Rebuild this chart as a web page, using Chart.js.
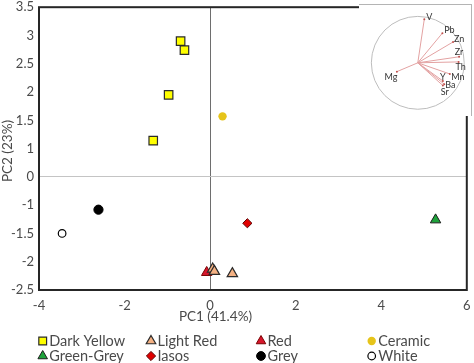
<!DOCTYPE html>
<html>
<head>
<meta charset="utf-8">
<script src="https://cdn.jsdelivr.net/npm/chart.js@4.4.1/dist/chart.umd.min.js"></script>
<style>
  html, body { margin: 0; padding: 0; background: #fff; }
  #wrap { position: relative; width: 474px; height: 363px; }
  #inset { position: absolute; left: 359px; top: 4px; width: 112px; height: 111px;
           background: #fff; border-top: 1px solid #b4b4b4; border-right: 1px solid #b4b4b4; }
</style>
</head>
<body>
<div id="wrap">
  <canvas id="main" width="474" height="363"></canvas>
  <div id="inset"><canvas id="loadings" width="112" height="111"></canvas></div>
</div>
<script>
// --- Datos ---
const groupNames = ['Dark Yellow', 'Light Red', 'Red', 'Ceramic', 'Green-Grey', 'Iasos', 'Grey', 'White'];

const darkYellowX = [-0.69, -0.60, -0.97, -1.33];
const darkYellowY = [2.90, 2.74, 1.95, 1.14];
const lightRedX = [0.06, 0.10, 0.52];
const lightRedY = [-2.13, -2.17, -2.21];
const redX = [-0.08];
const redY = [-2.19];
const ceramicX = [0.29];
const ceramicY = [1.57];
const greenGreyX = [5.27];
const greenGreyY = [-1.26];
const iasosX = [0.87];
const iasosY = [-1.32];
const greyX = [-2.61];
const greyY = [-1.08];
const whiteX = [-3.46];
const whiteY = [-1.50];

// etiquetas del eje Y tal como aparecen (espaciado igual entre ellas)
const yTickValues = [-2.5, -2, -1.5, -1, 0, 1, 1.5, 2, 2.5, 3, 3.5];
const xTickMin = -4, xTickMax = 6, xTickStep = 2;

// cargas del círculo de correlaciones (inserto)
const loadingNames = ['V', 'Pb', 'Zn', 'Zr', 'Th', 'Mn', 'Y', 'Ba', 'Sr', 'Mg'];
const loadingX = [0.14, 0.53, 0.76, 0.89, 0.88, 0.69, 0.54, 0.57, 0.54, -0.45];
const loadingY = [0.94, 0.64, 0.45, 0.13, 0.02, -0.24, -0.39, -0.46, -0.49, -0.19];

// --- Estilos ---
const FONT = 'Lato, "Open Sans", sans-serif';
const TEXT = '#4a4a4a';
const groupStyles = [
  { style: 'rect',     radius: 6,   fill: '#ffff00', line: '#2b2b2b', width: 1.2, legendRadius: 5.5 },
  { style: 'triangle', radius: 6,   fill: '#f4b183', line: '#2b2b2b', width: 1.2, legendRadius: 5.5 },
  { style: 'triangle', radius: 6,   fill: '#d7162c', line: '#7a0000', width: 1,   legendRadius: 5.5 },
  { style: 'circle',   radius: 4.2, fill: '#e6c41a', line: '#e6c41a', width: 0,   legendRadius: 4.2 },
  { style: 'triangle', radius: 6,   fill: '#1ea33b', line: '#1d1d1d', width: 1,   legendRadius: 5.5 },
  { style: 'rectRot',  radius: 4.6, fill: '#e00000', line: '#5a0000', width: 1,   legendRadius: 4.6 },
  { style: 'circle',   radius: 4.6, fill: '#000000', line: '#000000', width: 1,   legendRadius: 4.4 },
  { style: 'circle',   radius: 3.8, fill: '#ffffff', line: '#000000', width: 1.2, legendRadius: 3.8 }
];
const labelOffsets = {
  V: [5, -2], Pb: [7, -3], Zn: [6, -3], Zr: [0, -5], Th: [2, 5],
  Mn: [8, 3], Y: [0, -4], Ba: [6, 1], Sr: [2, 7], Mg: [-6, 5]
};

function pairs(xs, ys) { return xs.map((x, i) => ({ x: x, y: ys[i] })); }
const seriesData = [
  pairs(darkYellowX, darkYellowY), pairs(lightRedX, lightRedY), pairs(redX, redY),
  pairs(ceramicX, ceramicY), pairs(greenGreyX, greenGreyY), pairs(iasosX, iasosY),
  pairs(greyX, greyY), pairs(whiteX, whiteY)
];

// --- Escala Y con etiquetas equiespaciadas (como en la figura original) ---
class StepScale extends Chart.LinearScale {
  buildTicks() {
    return yTickValues.map(v => ({ value: v }));
  }
  getPixelForValue(value) {
    const t = yTickValues;
    let i = 0;
    while (i < t.length - 2 && value > t[i + 1]) i++;
    const f = (i + (value - t[i]) / (t[i + 1] - t[i])) / (t.length - 1);
    return this.getPixelForDecimal(f);
  }
  getValueForPixel(pixel) {
    const t = yTickValues;
    const pos = this.getDecimalForPixel(pixel) * (t.length - 1);
    const i = Math.max(0, Math.min(t.length - 2, Math.floor(pos)));
    return t[i] + (pos - i) * (t[i + 1] - t[i]);
  }
}
StepScale.id = 'step';
StepScale.defaults = Chart.LinearScale.defaults;
Chart.register(StepScale);

// --- Marco, títulos de ejes y leyenda ---
const legendCols = [42.7, 151, 261, 371.7];
const legendRows = [341, 356];

const framePlugin = {
  id: 'frame',
  beforeDatasetsDraw(chart) {
    const { ctx, chartArea: a } = chart;
    ctx.save();
    ctx.strokeStyle = '#262626';
    ctx.lineWidth = 2;
    ctx.strokeRect(a.left, a.top, a.right - a.left, a.bottom - a.top);
    ctx.restore();
  },
  afterDraw(chart) {
    const ctx = chart.ctx;
    ctx.save();
    ctx.fillStyle = TEXT;
    ctx.font = '13.5px ' + FONT;
    ctx.textAlign = 'center';
    ctx.textBaseline = 'middle';
    ctx.fillText('PC1 (41.4%)', 215.5, 317);
    ctx.save();
    ctx.translate(8, 151);
    ctx.rotate(-Math.PI / 2);
    ctx.fillText('PC2 (23%)', 0, 0);
    ctx.restore();

    // leyenda en rejilla de 4 columnas
    ctx.font = '14.5px ' + FONT;
    ctx.textAlign = 'left';
    chart.data.datasets.forEach((ds, i) => {
      const s = groupStyles[i];
      const x = legendCols[i % 4];
      const y = legendRows[Math.floor(i / 4)];
      ctx.fillStyle = s.fill;
      ctx.strokeStyle = s.line;
      ctx.lineWidth = s.width;
      Chart.helpers.drawPoint(ctx, { pointStyle: s.style, rotation: 0, radius: s.legendRadius, borderWidth: s.width }, x, y);
      ctx.fillStyle = TEXT;
      ctx.fillText(ds.label, x + 6.5, y);
    });
    ctx.restore();
  }
};

new Chart(document.getElementById('main'), {
  type: 'scatter',
  data: {
    datasets: groupNames.map((name, i) => ({
      label: name,
      data: seriesData[i],
      pointStyle: groupStyles[i].style,
      pointRadius: groupStyles[i].radius,
      pointHoverRadius: groupStyles[i].radius,
      backgroundColor: groupStyles[i].fill,
      borderColor: groupStyles[i].line,
      borderWidth: groupStyles[i].width
    }))
  },
  options: {
    responsive: false,
    animation: false,
    layout: { padding: { top: 5, right: 3.5, bottom: 0, left: 0 } },
    plugins: { legend: { display: false }, tooltip: { enabled: false } },
    scales: {
      x: {
        type: 'linear',
        min: xTickMin, max: xTickMax,
        ticks: { stepSize: xTickStep, padding: 8, color: TEXT, font: { family: FONT, size: 13 } },
        grid: { drawTicks: false, lineWidth: 1, color: c => (c.tick && c.tick.value === 0 ? '#6e6e6e' : 'rgba(0,0,0,0)') },
        border: { display: false },
        afterFit: s => { s.height = 73; s.paddingLeft = 0; s.paddingRight = 0; }
      },
      y: {
        type: 'step',
        min: yTickValues[0], max: yTickValues[yTickValues.length - 1],
        ticks: { padding: 5, color: TEXT, font: { family: FONT, size: 13 }, callback: v => String(v) },
        grid: { drawTicks: false, lineWidth: 1, color: c => (c.tick && c.tick.value === 0 ? '#c4c4c4' : 'rgba(0,0,0,0)') },
        border: { display: false },
        afterFit: s => { s.width = 39; s.paddingTop = 0; s.paddingBottom = 0; }
      }
    }
  },
  plugins: [framePlugin]
});

// --- Inserto: círculo de correlaciones ---
const circlePlugin = {
  id: 'circle',
  beforeDatasetsDraw(chart) {
    const { ctx, scales } = chart;
    const cx = scales.x.getPixelForValue(0);
    const cy = scales.y.getPixelForValue(0);
    const r = scales.x.getPixelForValue(1) - cx;
    ctx.save();
    ctx.strokeStyle = '#bdbdbd';
    ctx.lineWidth = 1;
    ctx.beginPath();
    ctx.arc(cx, cy, r, 0, Math.PI * 2);
    ctx.stroke();
    ctx.restore();
  },
  afterDatasetsDraw(chart) {
    const { ctx, scales } = chart;
    ctx.save();
    ctx.fillStyle = '#333';
    ctx.font = '9px ' + FONT;
    ctx.textAlign = 'center';
    ctx.textBaseline = 'middle';
    loadingNames.forEach((n, i) => {
      const px = scales.x.getPixelForValue(loadingX[i]);
      const py = scales.y.getPixelForValue(loadingY[i]);
      const off = labelOffsets[n];
      ctx.fillText(n, px + off[0], py + off[1]);
    });
    ctx.restore();
  }
};

new Chart(document.getElementById('loadings'), {
  type: 'scatter',
  data: {
    datasets: loadingNames.map((n, i) => ({
      label: n,
      data: [{ x: 0, y: 0 }, { x: loadingX[i], y: loadingY[i] }],
      showLine: true,
      borderColor: '#e3a2a2',
      borderWidth: 1,
      pointRadius: [0, 1],
      pointBackgroundColor: '#c0504d',
      pointBorderWidth: 0
    }))
  },
  options: {
    responsive: false,
    animation: false,
    layout: { padding: 0 },
    plugins: { legend: { display: false }, tooltip: { enabled: false } },
    scales: {
      x: { type: 'linear', display: false, min: -1.18, max: 1.06 },
      y: { type: 'linear', display: false, min: -1.06, max: 1.16 }
    }
  },
  plugins: [circlePlugin]
});
</script>
</body>
</html>
